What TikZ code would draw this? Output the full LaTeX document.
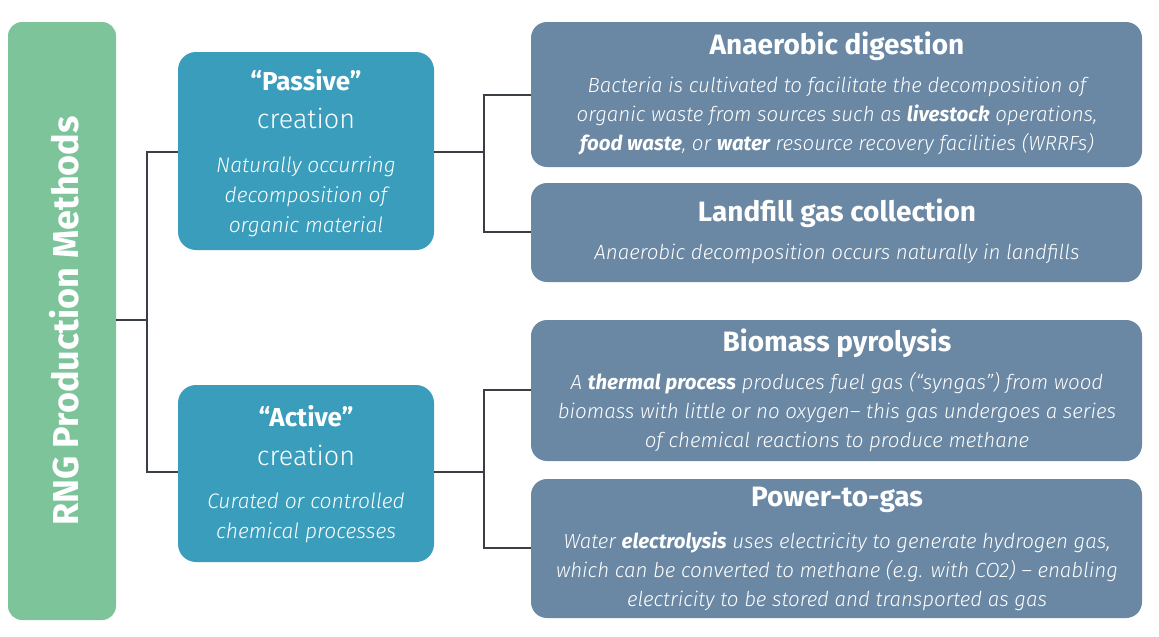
\documentclass[tikz,border=0pt]{standalone}
\usepackage{fontspec}
\setmainfont{Fira Sans}
\newfontfamily\lightff{Fira Sans Light}
\newcommand{\light}{\lightff}
\definecolor{gbar}{HTML}{7DC49B}
\definecolor{teal}{HTML}{3A9DBC}
\definecolor{slate}{HTML}{6A87A3}
\definecolor{line}{HTML}{3A3F45}
\begin{document}
\begin{tikzpicture}[x=1pt,y=-1pt,
 conn/.style={draw=line,line width=2.5pt},
 ttl/.style={font=\fontsize{28}{32}\selectfont\bfseries,text=white},
 bdy/.style={font=\fontsize{20.5}{29}\selectfont\light\itshape,text=white,align=center},
]
\useasboundingbox (0,0) rectangle (1159,637);
\fill[white] (0,0) rectangle (1159,637);
\fill[gbar,rounded corners=14pt] (8,22) rectangle (116,620);
\node[rotate=90,text=white,font=\fontsize{36}{40}\selectfont\bfseries] (rng) at (64,321) {RNG Production Methods};
\coordinate (rngR) at (116,320);
\fill[teal,rounded corners=18pt] (178,52) rectangle (434,250);
\fill[teal,rounded corners=18pt] (178,385) rectangle (434,562);
\fill[slate,rounded corners=16pt] (531,22) rectangle (1142,167);
\fill[slate,rounded corners=16pt] (531,183) rectangle (1142,282);
\fill[slate,rounded corners=16pt] (531,320) rectangle (1142,461);
\fill[slate,rounded corners=16pt] (531,479) rectangle (1142,618);
\coordinate (pL) at (178,152); \coordinate (pR) at (434,152);
\coordinate (aL) at (178,472); \coordinate (aR) at (434,472);
\coordinate (adL) at (531,95); \coordinate (lfL) at (531,232);
\coordinate (bpL) at (531,390); \coordinate (pgL) at (531,548);
\draw[conn] (rngR) -- (147,320);
\draw[conn] (pL) -| (147,472) -- (aL);
\draw[conn] (pR) -- (484,152);
\draw[conn] (adL) -| (484,232) -- (lfL);
\draw[conn] (aR) -- (484,472);
\draw[conn] (bpL) -| (484,548) -- (pgL);
\node[text=white,font=\fontsize{26}{30}\selectfont\bfseries] (pt) at (306,80) {“Passive”};
\node[text=white,font=\fontsize{27}{30}\selectfont\light] (pc) at (306,118) {creation};
\node[text=white,align=center,font=\fontsize{21}{30}\selectfont\light\itshape] (pb) at (306,197) {Naturally occurring\\decomposition of\\organic material};
\node[text=white,font=\fontsize{26}{30}\selectfont\bfseries] (at) at (306,416) {“Active”};
\node[text=white,font=\fontsize{27}{30}\selectfont\light] (ac) at (306,455) {creation};
\node[text=white,align=center,font=\fontsize{21}{30}\selectfont\light\itshape] (ab) at (306,518) {Curated or controlled\\chemical processes};
\node[ttl] (t1) at (837,46) {Anaerobic digestion};
\node[bdy] (b1) at (837,116) {Bacteria is cultivated to facilitate the decomposition of\\organic waste from sources such as {\normalfont\itshape\bfseries livestock} operations,\\{\normalfont\itshape\bfseries food waste}, or {\normalfont\itshape\bfseries water} resource recovery facilities (WRRFs)};
\node[ttl] (t2) at (837,213) {Landfill gas collection};
\node[bdy] (b2) at (837,254) {Anaerobic decomposition occurs naturally in landfills};
\node[ttl] (t3) at (837,343) {Biomass pyrolysis};
\node[bdy] (b3) at (837,412) {A {\normalfont\itshape\bfseries thermal process} produces fuel gas (“syngas”) from wood\\biomass with little or no oxygen– this gas undergoes a series\\of chemical reactions to produce methane};
\node[ttl] (t4) at (837,500) {Power-to-gas};
\node[bdy] (b4) at (837,571) {Water {\normalfont\itshape\bfseries electrolysis} uses electricity to generate hydrogen gas,\\which can be converted to methane (e.g. with CO2) – enabling\\electricity to be stored and transported as gas};
\end{tikzpicture}
\end{document}
